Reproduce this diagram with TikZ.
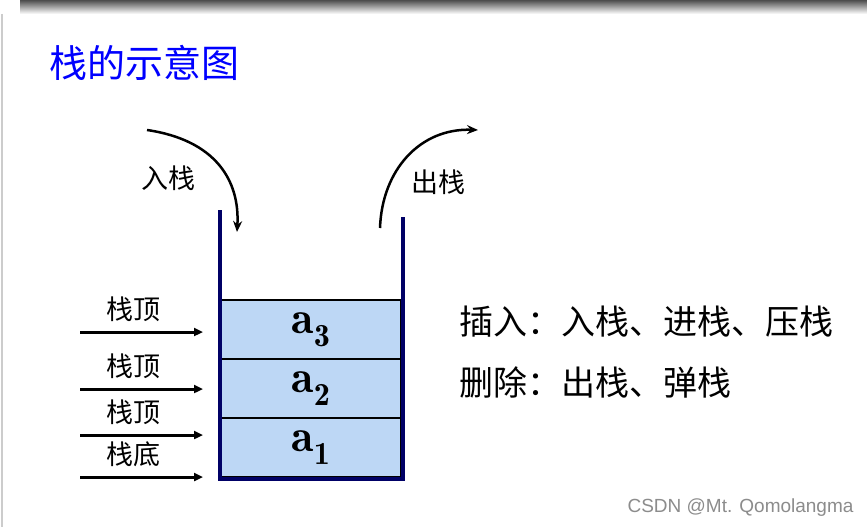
\documentclass[tikz,border=0pt]{standalone}
\usepackage{fontspec}
\newfontfamily\cjk{Noto Sans CJK SC}
\usetikzlibrary{arrows.meta}
\definecolor{cellblue}{RGB}{189,215,245}
\definecolor{wallnavy}{RGB}{0,0,102}
\newcommand{\cellitem}[1]{\fontsize{46}{48}\selectfont$\mathbf{a}_{\mathbf{#1}}$}
\tikzset{
  cell/.style={draw=black,line width=2pt,fill=cellblue,minimum width=180pt,minimum height=59pt,inner sep=0pt},
  pointer/.style={-{Triangle[length=9pt,width=8pt]},line width=3pt},
  flow/.style={-{Stealth[length=11pt,width=9pt]},line width=2.5pt},
  tag/.style={font=\cjk\fontsize{27}{30}\selectfont}
}
\begin{document}
\begin{tikzpicture}[x=1pt,y=-1pt]
  \useasboundingbox (0,0) rectangle (867,527);
  \fill[white] (0,0) rectangle (867,527);
  \shade[top color=black!70,bottom color=white] (20,0) rectangle (867,14);
  \draw[black!20,line width=2pt] (2,14) -- (2,527);
  \node[anchor=west,text=blue,font=\cjk\fontsize{38}{42}\selectfont] (title) at (46,63) {栈的示意图};

  %% stack
  \node[cell] (c1) at (311,447.5) {\cellitem{1}};
  \node[cell] (c2) at (311,388.5) {\cellitem{2}};
  \node[cell] (c3) at (311,329.5) {\cellitem{3}};
  \draw[wallnavy,line width=4pt] (220,210) -- (220,479) -- (403,479) -- (403,217);

  %% pointers
  \foreach \y/\t/\n in {332/栈顶/p3,389/栈顶/p2,435/栈顶/p1,477/栈底/p0}{
    \coordinate (\n) at (80,\y);
    \draw[pointer] (\n) -- ++(123,0);
    \node[tag] at (133,\y-23) {\t};
  }

  %% push and pop
  \coordinate (pin) at (147,130);
  \coordinate (pout) at (380,228);
  \draw[flow] (pin) .. controls (215,140) and (240,180) .. (237,232);
  \node[tag] (push) at (168,178) {入栈};
  \draw[flow] (pout) .. controls (382,170) and (420,128) .. (478,130);
  \node[tag] (pop) at (438,182) {出栈};

  \node[anchor=west,font=\cjk\fontsize{34}{36}\selectfont] (ins) at (456,322) {插入：入栈、进栈、压栈};
  \node[anchor=west,font=\cjk\fontsize{34}{36}\selectfont] (del) at (456,382) {删除：出栈、弹栈};
  \node[anchor=east,text=black!45,font=\fontspec{Liberation Sans}\fontsize{19}{21}\selectfont] (mark) at (857,508) {CSDN @Mt. Qomolangma};
\end{tikzpicture}
\end{document}
